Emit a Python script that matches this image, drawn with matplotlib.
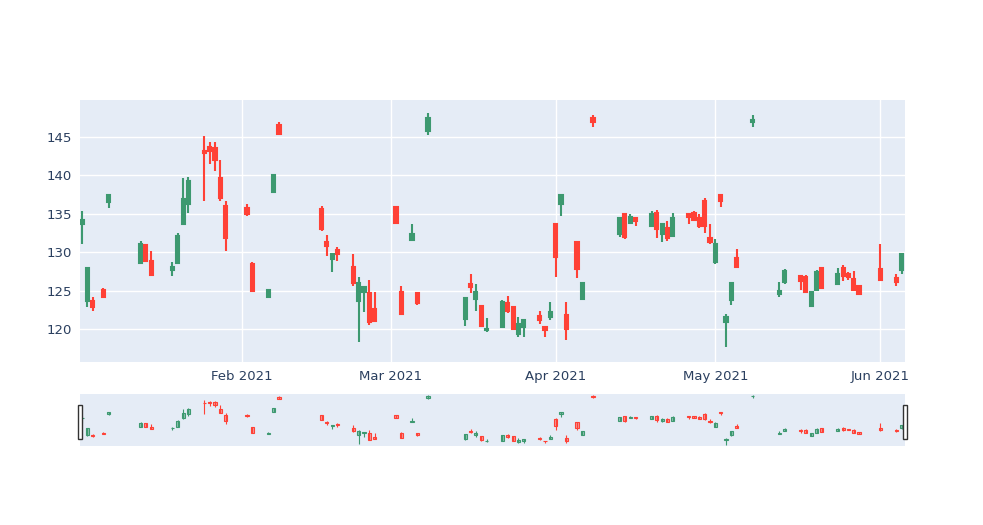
import matplotlib
matplotlib.use("agg")
import matplotlib.pyplot as plt
import matplotlib.dates as mdates
from matplotlib.patches import Rectangle
import numpy as np
import datetime as dt

dates = ["2021-01-02", "2021-01-03", "2021-01-04", "2021-01-06", "2021-01-07", "2021-01-13",
         "2021-01-14", "2021-01-15", "2021-01-19", "2021-01-20", "2021-01-21", "2021-01-22",
         "2021-01-25", "2021-01-26", "2021-01-27", "2021-01-28", "2021-01-29", "2021-02-02",
         "2021-02-03", "2021-02-06", "2021-02-07", "2021-02-08", "2021-02-16", "2021-02-17",
         "2021-02-18", "2021-02-19", "2021-02-22", "2021-02-23", "2021-02-24", "2021-02-25",
         "2021-02-26", "2021-03-02", "2021-03-03", "2021-03-05", "2021-03-06", "2021-03-08",
         "2021-03-15", "2021-03-16", "2021-03-17", "2021-03-18", "2021-03-19", "2021-03-22",
         "2021-03-23", "2021-03-24", "2021-03-25", "2021-03-26", "2021-03-29", "2021-03-30",
         "2021-03-31", "2021-04-01", "2021-04-02", "2021-04-03", "2021-04-05", "2021-04-06",
         "2021-04-08", "2021-04-13", "2021-04-14", "2021-04-15", "2021-04-16", "2021-04-19",
         "2021-04-20", "2021-04-21", "2021-04-22", "2021-04-23", "2021-04-26", "2021-04-27",
         "2021-04-28", "2021-04-29", "2021-04-30", "2021-05-01", "2021-05-02", "2021-05-03",
         "2021-05-04", "2021-05-05", "2021-05-08", "2021-05-13", "2021-05-14", "2021-05-17",
         "2021-05-18", "2021-05-19", "2021-05-20", "2021-05-21", "2021-05-24", "2021-05-25",
         "2021-05-26", "2021-05-27", "2021-05-28", "2021-06-01", "2021-06-04", "2021-06-05"]

opens = [133.7, 123.6, 123.7, 125.1, 136.5, 128.6, 130.9, 128.8, 127.7, 128.6, 133.7, 136.3,
         143.2, 143.7, 143.5, 139.6, 136.0, 135.8, 128.5, 124.1, 137.8, 146.6, 135.6, 131.3,
         129.1, 130.3, 128.1, 123.7, 124.8, 124.7, 122.6, 135.9, 124.8, 131.6, 124.7, 145.8,
         121.3, 125.8, 123.9, 123.0, 119.8, 120.2, 123.4, 122.9, 119.3, 120.2, 121.7, 120.2,
         121.5, 133.6, 136.3, 121.8, 131.3, 123.9, 147.4, 132.3, 135.0, 133.8, 134.4, 133.4,
         135.1, 132.3, 133.1, 132.1, 135.0, 135.1, 134.4, 136.6, 131.9, 128.7, 137.5, 120.9,
         123.8, 129.2, 147.0, 124.5, 126.1, 126.9, 126.7, 123.0, 125.1, 127.9, 125.9, 127.9,
         127.1, 126.5, 125.6, 127.8, 126.6, 127.7]
highs = [135.3, 128.0, 124.1, 125.3, 137.5, 131.4, 131.0, 130.2, 128.7, 132.5, 139.6, 139.8,
         145.1, 144.3, 144.3, 142.0, 136.7, 136.3, 128.7, 125.2, 140.1, 147.0, 136.0, 132.2,
         129.9, 130.7, 129.7, 126.7, 125.5, 126.4, 124.8, 136.0, 125.6, 133.7, 124.8, 148.1,
         124.1, 127.2, 125.8, 123.1, 121.4, 123.8, 124.3, 123.0, 121.6, 121.3, 122.4, 120.3,
         123.5, 133.7, 137.6, 123.5, 131.4, 126.1, 147.9, 134.6, 135.1, 135.0, 134.6, 135.4,
         135.5, 133.7, 134.1, 135.1, 135.1, 135.4, 135.0, 137.0, 133.6, 131.7, 137.6, 121.9,
         126.1, 130.4, 147.9, 126.1, 127.8, 127.0, 127.0, 124.9, 127.7, 128.0, 127.9, 128.3,
         127.4, 127.6, 125.7, 131.1, 127.1, 129.9]
lows = [131.0, 122.8, 122.4, 124.0, 135.8, 128.5, 128.7, 127.0, 126.9, 128.5, 133.6, 135.1,
        136.6, 141.5, 140.5, 136.7, 130.2, 134.7, 124.9, 124.0, 137.7, 145.3, 132.8, 129.5,
        127.4, 128.8, 125.6, 118.3, 122.2, 120.5, 121.0, 133.7, 121.8, 131.5, 123.1, 145.3,
        120.4, 124.7, 122.3, 120.3, 119.6, 120.1, 122.1, 119.9, 119.0, 118.9, 120.7, 118.9,
        121.2, 126.8, 134.7, 118.6, 126.6, 123.8, 146.3, 132.0, 131.7, 133.7, 133.4, 133.3,
        131.8, 131.3, 131.4, 132.0, 133.6, 134.1, 133.1, 132.5, 131.1, 128.5, 135.9, 117.6,
        123.1, 127.9, 146.3, 124.2, 125.8, 125.1, 124.7, 122.8, 125.0, 125.2, 125.8, 126.3,
        126.4, 125.0, 124.4, 126.3, 125.6, 127.1]
closes = [134.2, 127.9, 122.9, 124.2, 137.4, 131.0, 128.8, 127.0, 128.0, 132.1, 136.9, 139.2,
          142.9, 143.1, 142.0, 137.0, 131.9, 135.0, 125.0, 125.1, 140.1, 145.4, 133.0, 130.8,
          129.8, 129.8, 126.0, 126.0, 125.4, 120.9, 121.1, 133.8, 121.9, 132.3, 123.4, 147.5,
          124.0, 125.5, 124.8, 120.4, 120.0, 123.5, 122.3, 120.0, 120.6, 121.2, 121.2, 119.8,
          122.2, 129.4, 137.5, 120.0, 127.8, 126.0, 146.9, 134.5, 132.0, 134.6, 134.1, 135.0,
          133.0, 133.6, 131.8, 134.4, 134.6, 134.2, 133.4, 133.4, 131.3, 131.1, 136.7, 121.5,
          126.0, 128.0, 147.2, 125.0, 127.5, 126.2, 124.8, 124.8, 127.4, 125.3, 127.2, 126.9,
          126.8, 125.1, 124.5, 126.4, 126.1, 129.8]

UP = "#3D9970"
DOWN = "#FF4136"
BG = "#E5ECF6"

x = mdates.date2num([dt.datetime.strptime(d, "%Y-%m-%d") for d in dates])
x0 = mdates.date2num(dt.datetime(2021, 1, 1, 15))
x1 = mdates.date2num(dt.datetime(2021, 6, 5, 15))

fig = plt.figure(figsize=(9.83, 5.25), dpi=100)
ax = fig.add_axes([80/983, 1-362/525, 825/983, 262/525])
sl = fig.add_axes([80/983, 1-446/525, 825/983, 52/525])


def draw(a, lw, bodylw, width):
    for xi, o, h, l, c in zip(x, opens, highs, lows, closes):
        col = UP if c >= o else DOWN
        a.plot([xi, xi], [l, h], color=col, lw=lw, solid_capstyle="butt", zorder=3)
        lo, hi = min(o, c), max(o, c)
        a.add_patch(Rectangle((xi - width/2, lo), width, max(hi - lo, 0.05),
                              facecolor=col, alpha=0.5, edgecolor="none", zorder=3))
        a.add_patch(Rectangle((xi - width/2, lo), width, max(hi - lo, 0.05),
                              facecolor="none", edgecolor=col, lw=bodylw, zorder=4))


draw(ax, 1.5, 1.5, 0.6)
ax.set_facecolor(BG)
ax.set_xlim(x0, x1)
ax.set_ylim(115.7, 149.8)
ax.set_yticks([120, 125, 130, 135, 140, 145])
ax.xaxis.set_major_locator(mdates.MonthLocator(bymonth=[2, 3, 4, 5, 6]))
ax.xaxis.set_major_formatter(mdates.DateFormatter("%b %Y"))
ax.grid(color="white", lw=1)
ax.set_axisbelow(True)
for s in ax.spines.values():
    s.set_visible(False)
ax.tick_params(length=0, colors="#2a3f5f", labelsize=9.5, pad=6)

draw(sl, 0.8, 0.8, 0.6)
sl.set_facecolor(BG)
sl.set_xlim(x0, x1)
sl.set_ylim(117.0, 148.5)
sl.set_xticks([])
sl.set_yticks([])
for s in sl.spines.values():
    s.set_visible(False)
for hx in [x0, x1]:
    sl.add_patch(Rectangle((hx - 0.45, 121.5), 0.9, 20.5, facecolor="white",
                           edgecolor="#333333", lw=1, zorder=6, clip_on=False))

fig.savefig("out.png", dpi=100)
